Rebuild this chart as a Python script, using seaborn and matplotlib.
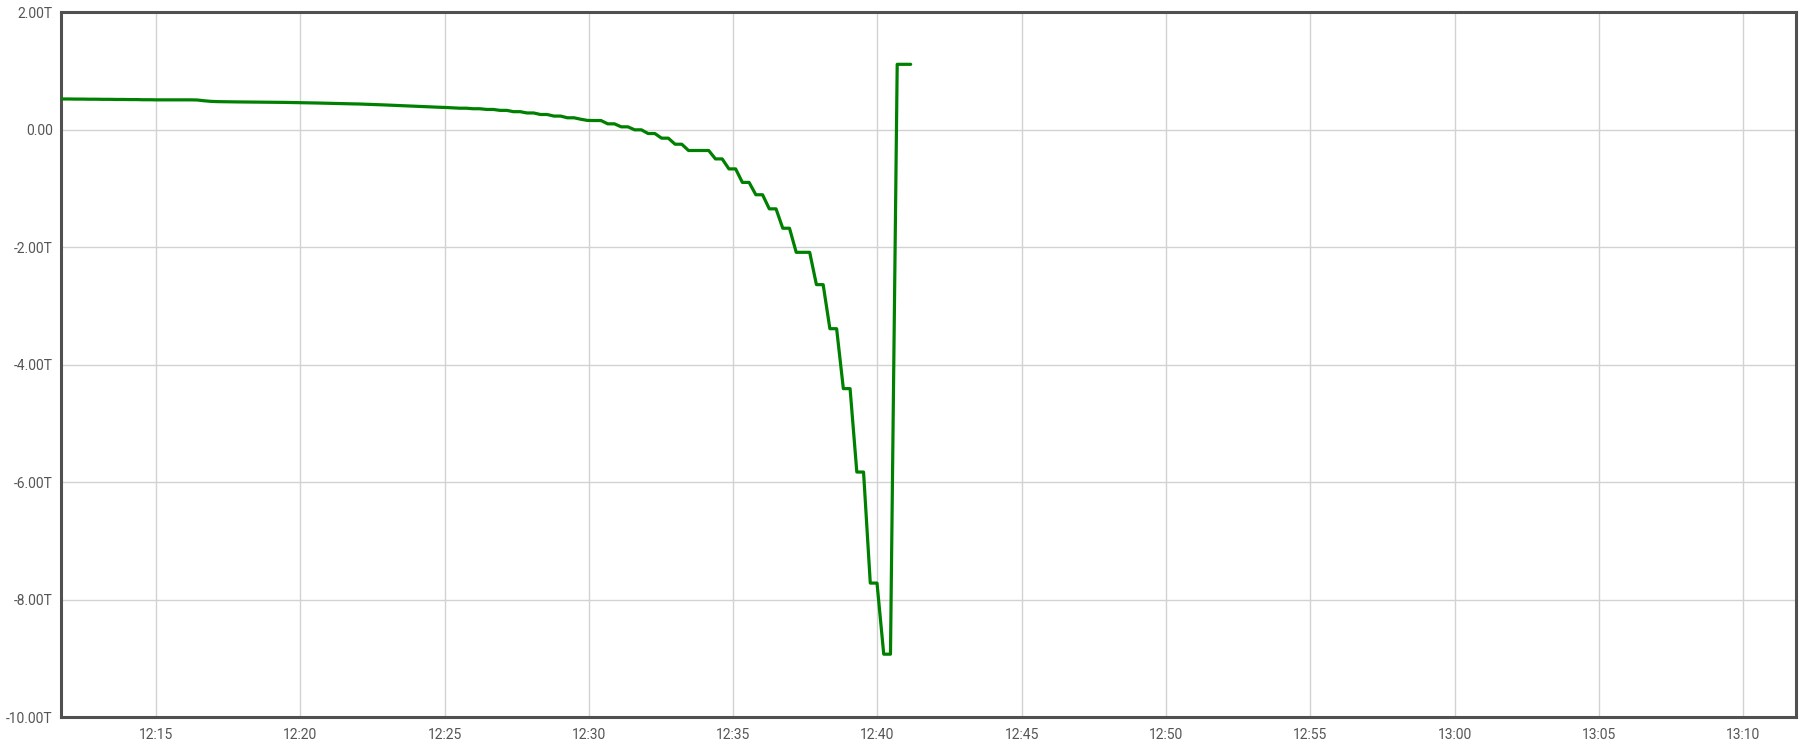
import pandas as pd
import numpy as np
import matplotlib
matplotlib.use('Agg')
import matplotlib.pyplot as plt
import matplotlib.dates as mdates
from matplotlib.ticker import FuncFormatter, MultipleLocator
import seaborn as sns

# valores en T (1e12), una muestra cada 14 s
valores_t = [
    0.52, 0.52, 0.52, 0.52, 0.518, 0.518, 0.516, 0.516, 0.514, 0.514, 0.512,
    0.512, 0.51, 0.51, 0.507, 0.507, 0.505, 0.505, 0.505, 0.505, 0.505, 0.505,
    0.503, 0.49, 0.48, 0.475, 0.473, 0.472, 0.47, 0.469, 0.468, 0.467, 0.466,
    0.465, 0.464, 0.462, 0.46, 0.458, 0.456, 0.453, 0.451, 0.448, 0.445, 0.443,
    0.44, 0.437, 0.435, 0.431, 0.426, 0.422, 0.418, 0.413, 0.408, 0.403, 0.398,
    0.393, 0.389, 0.384, 0.379, 0.375, 0.369,
    0.363, 0.363, 0.354, 0.354, 0.342, 0.342, 0.326, 0.326, 0.304, 0.304,
    0.282, 0.282, 0.256, 0.256, 0.229, 0.229, 0.2, 0.2,
    0.175, 0.155, 0.153, 0.153, 0.097, 0.097, 0.046, 0.046, -0.005, -0.005,
    -0.068, -0.068, -0.147, -0.147, -0.25, -0.25, -0.357, -0.357, -0.357, -0.357,
    -0.50, -0.50, -0.67, -0.67, -0.90, -0.90, -1.11, -1.11, -1.35, -1.35,
    -1.68, -1.68, -2.09, -2.09, -2.09, -2.64, -2.64, -3.39, -3.39, -4.41, -4.41,
    -5.83, -5.83, -7.72, -7.72, -8.93, -8.93,
    1.11, 1.11, 1.11,
]
inicio = '2024-01-01 12:11:17'
paso = '14s'
x_min = '2024-01-01 12:11:42'
x_max = '2024-01-01 13:11:50'

tiempos = pd.date_range(inicio, periods=len(valores_t), freq=paso)
df = pd.DataFrame({'tiempo': tiempos, 'valor': np.array(valores_t) * 1e12})

sns.set_style('white')
plt.rcParams['font.family'] = ['Roboto', 'DejaVu Sans']

fig = plt.figure(figsize=(18.15, 7.52), dpi=100)
ax = fig.add_axes([0.0336, 0.0465, 0.9559, 0.9375])

sns.lineplot(data=df, x='tiempo', y='valor', ax=ax, color='#008000',
             linewidth=2.3, zorder=3)

ax.set_xlim(pd.Timestamp(x_min), pd.Timestamp(x_max))
ax.set_ylim(-10e12, 2e12)
ax.yaxis.set_major_locator(MultipleLocator(2e12))


def fmt_t(v, pos):
    if abs(v) < 1e6:
        return '0.00'
    return f'{v / 1e12:.2f}T'


ax.yaxis.set_major_formatter(FuncFormatter(fmt_t))
ax.xaxis.set_major_locator(mdates.MinuteLocator(byminute=range(0, 60, 5)))
ax.xaxis.set_major_formatter(mdates.DateFormatter('%H:%M'))

ax.grid(True, color='#d2d2d2', linewidth=1.0, zorder=0)
ax.set_axisbelow(True)
for s in ax.spines.values():
    s.set_color('#505050')
    s.set_linewidth(2.2)
    s.set_visible(True)

ax.tick_params(axis='both', length=0, labelsize=10, labelcolor='#555555')
ax.tick_params(axis='x', pad=8)
ax.tick_params(axis='y', pad=6)
ax.set_xlabel('')
ax.set_ylabel('')

plt.savefig('out.png', dpi=100)
